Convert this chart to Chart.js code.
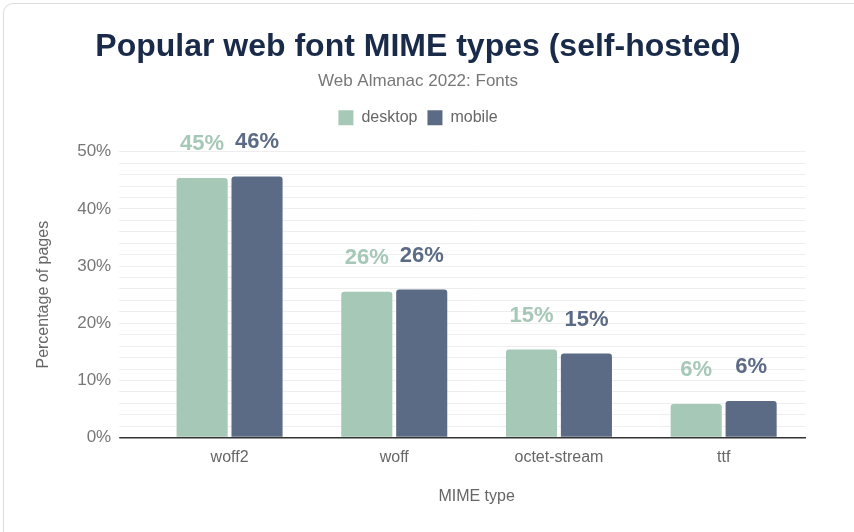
<!DOCTYPE html>
<html>
<head>
<meta charset="utf-8">
<script src="https://cdn.jsdelivr.net/npm/chart.js@4"></script>
<style>
  html, body { margin: 0; padding: 0; background: #fff; }
  .card {
    position: absolute; left: 3px; top: 3px; width: 880px; height: 560px;
    border: 1px solid #dcdcdc; border-radius: 10px; box-sizing: border-box;
  }
  .wrap { position: absolute; left: 0; top: 0; width: 854px; height: 532px; }
</style>
</head>
<body>
<div class="card"></div>
<div class="wrap"><canvas id="chart"></canvas></div>
<script>
const categories = ['woff2', 'woff', 'octet-stream', 'ttf'];
const desktop = [45.4, 25.5, 15.4, 5.9];
const mobile = [45.7, 25.9, 14.7, 6.4];
const yTicks = [0, 10, 20, 30, 40, 50];

const barLabels = {
    id: 'barLabels',
    afterDatasetsDraw(chart) {
        const ctx = chart.ctx;
        ctx.save();
        ctx.font = 'bold 22px "Liberation Sans", Arial, sans-serif';
        ctx.textAlign = 'center';
        ctx.textBaseline = 'middle';
        chart.data.datasets.forEach(function (ds, i) {
            chart.getDatasetMeta(i).data.forEach(function (bar, j) {
                ctx.fillStyle = ds.labelColor;
                ctx.fillText(Math.round(ds.data[j]) + '%', bar.x, bar.y - 34);
            });
        });
        ctx.restore();
    }
};

// extra room under the legend
const legendGap = {
    id: 'legendGap',
    beforeInit(chart) {
        const fit = chart.legend.fit;
        chart.legend.fit = function () {
            fit.bind(chart.legend)();
            this.height += 16;
        };
    }
};

document.addEventListener('DOMContentLoaded', function () {
    const ctx = document.getElementById('chart').getContext('2d');
    Chart.defaults.font.family = '"Liberation Sans", Arial, sans-serif';
    Chart.defaults.color = '#777';

    new Chart(ctx, {
        type: 'bar',
        data: {
            labels: categories,
            datasets: [{
                label: 'desktop',
                data: desktop,
                backgroundColor: '#a6c8b7',
                labelColor: '#a6c8b7',
                borderRadius: { topLeft: 3, topRight: 3 },
                borderSkipped: 'bottom',
                barPercentage: 0.93,
                categoryPercentage: 0.667
            }, {
                label: 'mobile',
                data: mobile,
                backgroundColor: '#5c6b85',
                labelColor: '#5c6b85',
                borderRadius: { topLeft: 3, topRight: 3 },
                borderSkipped: 'bottom',
                barPercentage: 0.93,
                categoryPercentage: 0.667
            }]
        },
        options: {
            responsive: true,
            maintainAspectRatio: false,
            animation: false,
            layout: { padding: { left: 30, right: 48, top: 28, bottom: 22 } },
            plugins: {
                title: {
                    display: true,
                    text: 'Popular web font MIME types (self-hosted)',
                    color: '#1a2b4a',
                    font: { size: 32, weight: 'bold' },
                    padding: { top: 0, bottom: 5 }
                },
                subtitle: {
                    display: true,
                    text: 'Web Almanac 2022: Fonts',
                    color: '#777',
                    font: { size: 17 },
                    padding: { bottom: 8 }
                },
                legend: {
                    labels: {
                        boxWidth: 15,
                        boxHeight: 15,
                        color: '#666',
                        font: { size: 16 },
                        padding: 10
                    }
                },
                tooltip: { enabled: false }
            },
            scales: {
                x: {
                    grid: { display: false },
                    border: { display: false },
                    ticks: { color: '#666', font: { size: 16 }, padding: 2 },
                    title: {
                        display: true,
                        text: 'MIME type',
                        color: '#666',
                        font: { size: 16 },
                        padding: { top: 18 }
                    }
                },
                y: {
                    min: 0,
                    max: 50,
                    border: { display: false },
                    grid: {
                        color: function (c) { return c.tick && c.tick.value === 0 ? '#333' : '#eeeeee'; },
                        lineWidth: function (c) { return c.tick && c.tick.value === 0 ? 1.5 : 1; },
                        drawTicks: true,
                        tickLength: 28
                    },
                    ticks: {
                        stepSize: 2,
                        autoSkip: false,
                        padding: 8,
                        color: '#777',
                        font: { size: 17 },
                        callback: function (v) { return yTicks.includes(v) ? v + '%' : ''; }
                    },
                    title: {
                        display: true,
                        text: 'Percentage of pages',
                        color: '#666',
                        font: { size: 16 },
                        padding: { bottom: 16 }
                    }
                }
            }
        },
        plugins: [barLabels, legendGap]
    });
});
</script>
</body>
</html>
